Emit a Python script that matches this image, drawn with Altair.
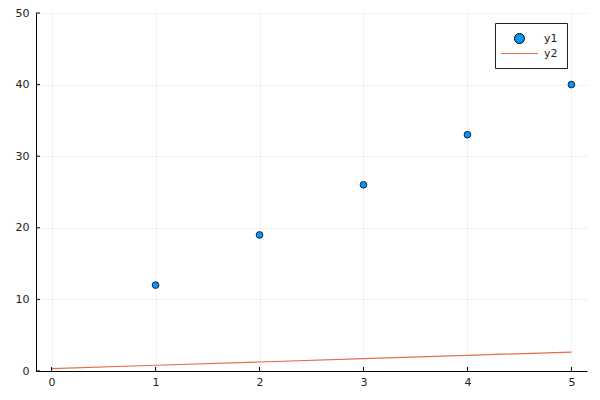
import altair as alt
import pandas as pd

x1 = [1, 2, 3, 4, 5]
y1 = [12, 19, 26, 33, 40]
x2 = [0, 1, 2, 3, 4, 5]
y2 = [0.33, 0.80, 1.26, 1.72, 2.19, 2.65]
xticks = [0, 1, 2, 3, 4, 5]
yticks = [0, 10, 20, 30, 40, 50]
series = ["y1", "y2"]
fills = ["#009af9", "#e26f46"]
strokes = ["#000000", "transparent"]
# legend glyphs (units of sqrt(symbolSize)/2 px)
legend_shapes = ["M0.667,0A0.833,0.833 0 1,0 2.333,0A0.833,0.833 0 1,0 0.667,0Z",
                 "M-1.583,-0.1L4.583,-0.1L4.583,0.1L-1.583,0.1Z"]

df1 = pd.DataFrame({"x": x1, "y": y1})
df2 = pd.DataFrame({"x": x2, "y": y2})
dleg = pd.DataFrame({"s": series})
dxt = pd.DataFrame({"t": xticks})
dyt = pd.DataFrame({"t": yticks})

W, H = 551, 358
xs = alt.Scale(domain=[-0.15, 5.15], nice=False, zero=False)
ys = alt.Scale(domain=[0, 50], nice=False, zero=False)

xax = alt.Axis(values=xticks, format="d", ticks=False, labelPadding=5, domainColor="black",
               gridColor="#000000", gridOpacity=0.1, gridWidth=0.5, title=None,
               labelFontSize=11, labelColor="#222", labelFont="DejaVu Sans")
yax = alt.Axis(values=yticks, format="d", ticks=False, labelPadding=7, domainColor="black",
               gridColor="#000000", gridOpacity=0.1, gridWidth=0.5, title=None,
               labelFontSize=11, labelColor="#222", labelFont="DejaVu Sans")

legend = alt.Legend(
    title=None, orient="none", legendX=459, legendY=10,
    strokeColor="#222", fillColor="white", padding=9, cornerRadius=0,
    labelFontSize=11, labelFont="DejaVu Sans", labelColor="#222",
    rowPadding=1, symbolSize=144, labelOffset=27, symbolStrokeWidth=1,
    symbolOpacity=1, labelExpr="datum.label + '\u00a0'",
)

color = alt.Color("s:N", scale=alt.Scale(domain=series, range=fills), legend=legend)
stroke = alt.Stroke("s:N", scale=alt.Scale(domain=series, range=strokes), legend=legend)
shape = alt.Shape("s:N", scale=alt.Scale(domain=series, range=legend_shapes), legend=legend)

line = alt.Chart(df2).mark_line(strokeWidth=1.2, color="#e26f46").encode(
    x=alt.X("x:Q", scale=xs, axis=xax),
    y=alt.Y("y:Q", scale=ys, axis=yax),
)
pts = alt.Chart(df1).mark_circle(size=45, opacity=1, color="#009af9", stroke="black",
                                 strokeWidth=0.8).encode(
    x=alt.X("x:Q", scale=xs),
    y=alt.Y("y:Q", scale=ys),
)
leg = alt.Chart(dleg).mark_point(filled=True, opacity=0).encode(
    x=alt.value(0), y=alt.value(0),
    color=color, stroke=stroke, shape=shape,
)
xt = alt.Chart(dxt).mark_rule(color="black", strokeWidth=1).encode(
    x=alt.X("t:Q", scale=xs), y=alt.value(H), y2=alt.value(H - 4))
yt = alt.Chart(dyt).mark_rule(color="black", strokeWidth=1).encode(
    y=alt.Y("t:Q", scale=ys), x=alt.value(0), x2=alt.value(4))

chart = alt.layer(line, pts, xt, yt, leg).properties(
    width=W, height=H,
    autosize=alt.AutoSizeParams(type="none"),
    padding={"left": 28, "top": 5, "right": 5, "bottom": 20},
).configure_view(stroke=None).configure_axis(domainWidth=1)

chart.save("out.html", embed_options={"renderer": "svg", "actions": False})
